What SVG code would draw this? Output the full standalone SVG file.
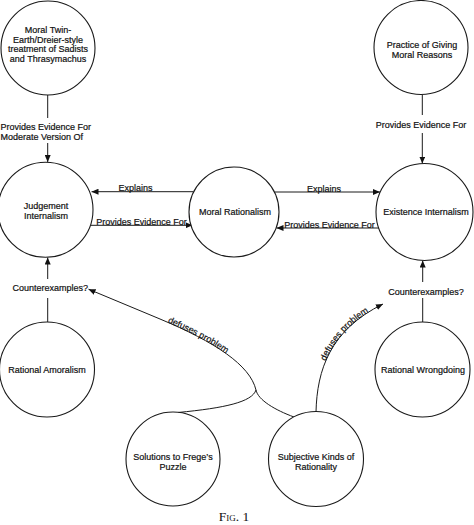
<svg xmlns="http://www.w3.org/2000/svg" width="474" height="525" viewBox="0 0 474 525">
<style>
.node circle{fill:#fff;stroke:#1a1a1a;stroke-width:1.1}
text{font-family:"Liberation Sans",Arial,sans-serif;font-size:9px;fill:#111;stroke:#111;stroke-width:0.2}
.c{text-anchor:middle}
.edge{fill:none;stroke:#1a1a1a;stroke-width:1}
.arr{marker-end:url(#ah)}
.cap{font-family:"Liberation Serif","Times New Roman",serif;font-size:13.5px;font-variant:small-caps;stroke:none}
</style>
<defs>
<marker id="ah" markerUnits="userSpaceOnUse" markerWidth="7" markerHeight="6" refX="7" refY="3" orient="auto">
<path d="M0,0 L7,3 L0,6 z" fill="#111"/>
</marker>
<path id="lp" d="M88,289 L160,319 C215,342 250,365 256,390"/>
<path id="rp" d="M316,412 C317,370 330,330 383,304"/>
</defs>
<rect width="474" height="525" fill="#fff"/>
<g id="connectors">
<path class="edge" d="M47.7,95 V118"/>
<path class="edge arr" d="M47.7,143 V162"/>
<text x="0.5" y="130.3">Provides Evidence For</text>
<text x="0.5" y="140.3">Moderate Version Of</text>
<path class="edge" d="M422.3,95 V115"/>
<path class="edge arr" d="M422.3,133 V163.5"/>
<text class="c" x="421" y="128.3">Provides Evidence For</text>
<path class="edge arr" d="M193,191.7 H91.5"/>
<text class="c" x="135.5" y="191">Explains</text>
<path class="edge arr" d="M91,225.3 H192.5"/>
<text class="c" x="141.5" y="225">Provides Evidence For</text>
<path class="edge arr" d="M275,192 H380"/>
<text class="c" x="324" y="191.5">Explains</text>
<path class="edge arr" d="M379,228 H276.5"/>
<text class="c" x="329.5" y="227.5">Provides Evidence For</text>
<path class="edge" d="M47.7,322 V298"/>
<path class="edge arr" d="M47.7,279 V257.5"/>
<text x="12.5" y="291.3">Counterexamples?</text>
<path class="edge" d="M422.7,322 V298"/>
<path class="edge arr" d="M422.7,282 V260.5"/>
<text class="c" x="426" y="295">Counterexamples?</text>
<path class="edge arr" d="M256,390 C250,365 215,342 160,319 L88.5,289.2"/>
<path class="edge" d="M256,390 C252,402 225,408 178,412.5"/>
<path class="edge" d="M256,390 C258,400 275,410 294,417"/>
<text><textPath href="#lp" startOffset="86">defuses problem</textPath></text>
<path class="edge arr" d="M316,412 C317,370 330,330 383,304"/>
<text><textPath href="#rp" startOffset="52">defuses problem</textPath></text>
</g>
<g id="n-twin" class="node"><circle cx="48" cy="48" r="47"/>
<text class="c" x="48" y="32.6">Moral Twin-</text>
<text class="c" x="48" y="42.6">Earth/Dreier-style</text>
<text class="c" x="48" y="52.4">treatment of Sadists</text>
<text class="c" x="48" y="62.3">and Thrasymachus</text></g>
<g id="n-practice" class="node"><circle cx="421" cy="47.5" r="47"/>
<text class="c" x="422" y="48.3">Practice of Giving</text>
<text class="c" x="422" y="58.3">Moral Reasons</text></g>
<g id="n-judgement" class="node"><circle cx="45.5" cy="209.8" r="47.5"/>
<text class="c" x="46" y="209.3">Judgement</text>
<text class="c" x="46" y="219.3">Internalism</text></g>
<g id="n-rationalism" class="node"><circle cx="234" cy="212" r="45"/>
<text class="c" x="235" y="215.3">Moral Rationalism</text></g>
<g id="n-existence" class="node"><circle cx="424.5" cy="212" r="48.5"/>
<text class="c" x="426" y="215.3">Existence Internalism</text></g>
<g id="n-amoralism" class="node"><circle cx="47" cy="369.5" r="47.5"/>
<text class="c" x="47" y="373.3">Rational Amoralism</text></g>
<g id="n-wrongdoing" class="node"><circle cx="422.5" cy="369.5" r="47.5"/>
<text class="c" x="423" y="373.3">Rational Wrongdoing</text></g>
<g id="n-frege" class="node"><circle cx="173" cy="459" r="47"/>
<text class="c" x="173" y="460.3">Solutions to Frege’s</text>
<text class="c" x="173" y="470.3">Puzzle</text></g>
<g id="n-subjective" class="node"><circle cx="316" cy="459" r="47.5"/>
<text class="c" x="316" y="460.3">Subjective Kinds of</text>
<text class="c" x="316" y="470.3">Rationality</text></g>
<text class="cap c" x="234" y="521">Fig. 1</text>
</svg>
